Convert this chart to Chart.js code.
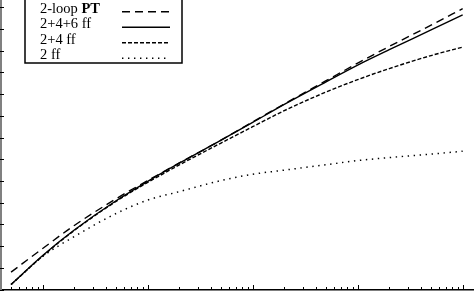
<!DOCTYPE html>
<html>
<head>
<meta charset="utf-8">
<script src="https://cdn.jsdelivr.net/npm/chart.js@4/dist/chart.umd.min.js"></script>
<style>
html,body{margin:0;padding:0;background:#fff;}
canvas{display:block;}
</style>
</head>
<body>
<canvas id="c" width="474" height="292"></canvas>
<script>
// ---- data ----
const xValues = [0.5, 1, 2, 5, 10, 20, 50, 100, 200, 500, 1000, 2000, 5000, 10000];
const pt2loop = [0.80, 1.89, 2.95, 4.18, 5.02, 5.83, 6.88, 7.72, 8.55, 9.62, 10.43, 11.20, 12.18, 12.94];
const ff246   = [0.23, 1.57, 2.74, 4.09, 4.98, 5.82, 6.88, 7.70, 8.53, 9.57, 10.34, 11.05, 11.96, 12.66];
const ff24    = [0.23, 1.54, 2.72, 4.06, 4.93, 5.74, 6.75, 7.50, 8.24, 9.10, 9.67, 10.18, 10.78, 11.17];
const ff2     = [0.23, 1.52, 2.44, 3.50, 4.12, 4.51, 5.02, 5.31, 5.50, 5.75, 5.94, 6.08, 6.24, 6.37];
const seriesLabels = ['2-loop PT', '2+4+6 ff', '2+4 ff', '2 ff'];
const yTickValues = [0,1,2,3,4,5,6,7,8,9,10,11,12,13];
const xTickDecades = [-1, 0, 1, 2, 3, 4];
const xTickMantissas = [1,2,3,4,5,6,7,8,9];

const pts = arr => xValues.map((x, i) => ({x: x, y: arr[i]}));
const seriesData = [pt2loop, ff246, ff24, ff2];
const dashes = [[8, 5], [], [4, 2], [1.4, 4.6]];
const widths = [1.4, 1.4, 1.4, 1.5];

const datasets = seriesData.map((d, i) => ({
  label: seriesLabels[i],
  data: pts(d),
  borderColor: '#000',
  borderWidth: widths[i],
  borderDash: dashes[i],
  pointRadius: 0,
  fill: false,
  cubicInterpolationMode: 'monotone'
}));

const FONT = "'Liberation Serif', 'DejaVu Serif', serif";

const tickPlugin = {
  id: 'inwardTicks',
  afterDraw(chart) {
    const ctx = chart.ctx;
    const xs = chart.scales.x, ys = chart.scales.y;
    const a = chart.chartArea;
    ctx.save();
    ctx.strokeStyle = '#000';
    ctx.lineWidth = 1;
    // y ticks
    yTickValues.forEach(v => {
      const y = Math.round(ys.getPixelForValue(v)) + 0.5;
      ctx.beginPath();
      ctx.moveTo(a.left - 1, y);
      ctx.lineTo(a.left + 3, y);
      ctx.stroke();
    });
    // x ticks (log)
    xTickDecades.forEach(e => {
      xTickMantissas.forEach(m => {
        const v = m * Math.pow(10, e);
        if (v < xs.min || v > xs.max) return;
        const x = Math.round(xs.getPixelForValue(v)) + 0.5;
        const len = m === 1 ? 4.5 : 2.5;
        ctx.beginPath();
        ctx.moveTo(x, a.bottom);
        ctx.lineTo(x, a.bottom - len);
        ctx.stroke();
      });
    });
    // legend box
    const bx = 25, by = -5, bw = 157, bh = 68;
    ctx.fillStyle = '#fff';
    ctx.fillRect(bx, by, bw, bh);
    ctx.lineWidth = 1.5;
    ctx.strokeStyle = '#000';
    ctx.strokeRect(bx, by, bw, bh);
    const baselines = [12.5, 28, 43.5, 59];
    ctx.fillStyle = '#000';
    ctx.textBaseline = 'alphabetic';
    chart.data.datasets.forEach((ds, i) => {
      const yb = baselines[i];
      const label = ds.label;
      if (label.endsWith(' PT')) {
        const head = label.slice(0, -2);
        ctx.font = "14.5px " + FONT;
        ctx.fillText(head, 40, yb);
        const w = ctx.measureText(head).width;
        ctx.font = "bold 14.5px " + FONT;
        ctx.fillText('PT', 40 + w, yb);
      } else {
        ctx.font = "14.5px " + FONT;
        ctx.fillText(label, 40, yb);
      }
      ctx.save();
      ctx.strokeStyle = ds.borderColor;
      ctx.lineWidth = ds.borderWidth;
      ctx.setLineDash(ds.borderDash || []);
      ctx.beginPath();
      ctx.moveTo(122, yb - 0.8);
      ctx.lineTo(170, yb - 0.8);
      ctx.stroke();
      ctx.restore();
    });
    ctx.restore();
  }
};

new Chart(document.getElementById('c'), {
  type: 'line',
  data: { datasets: datasets },
  options: {
    responsive: false,
    devicePixelRatio: 1,
    animation: false,
    layout: { padding: { left: 1, right: 0, top: 0, bottom: 2.5 } },
    plugins: { legend: { display: false }, tooltip: { enabled: false } },
    scales: {
      x: {
        type: 'logarithmic',
        min: 0.401,
        max: 12820,
        ticks: { display: false },
        grid: { display: true, drawOnChartArea: false, drawTicks: false },
        border: { display: true, color: '#000', width: 1.5 }
      },
      y: {
        type: 'linear',
        min: 0,
        max: 13.34,
        ticks: { display: false, stepSize: 1, includeBounds: false },
        grid: { display: true, drawOnChartArea: false, drawTicks: false },
        border: { display: true, color: '#808080', width: 2 }
      }
    }
  },
  plugins: [tickPlugin]
});
</script>
</body>
</html>
